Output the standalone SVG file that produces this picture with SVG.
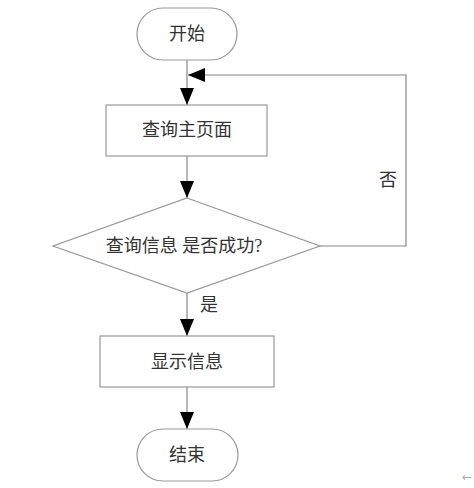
<svg xmlns="http://www.w3.org/2000/svg" width="474" height="488" viewBox="0 0 474 488">
<style>
.shape{fill:#fff;stroke:#999;stroke-width:1.2}
.line{fill:none;stroke:#888;stroke-width:1.2}
.t{font-family:"Liberation Serif","Noto Sans CJK SC",serif;font-size:18px;fill:#333;text-anchor:middle;dominant-baseline:central}
</style>
<rect width="474" height="488" fill="#fff"/>
<g id="connectors">
<path class="line" d="M187,60 V105"/>
<path d="M180,88 L194,88 L187,105 Z" fill="#000"/>
<path class="line" d="M320,246 H406 V75 H188"/>
<path d="M205,68 L205,82 L188,75 Z" fill="#000"/>
<path class="line" d="M187,156 V198"/>
<path d="M180,181 L194,181 L187,198 Z" fill="#000"/>
<path class="line" d="M187,293 V336"/>
<path d="M180,319 L194,319 L187,336 Z" fill="#000"/>
<path class="line" d="M187,387 V429"/>
<path d="M180,412 L194,412 L187,429 Z" fill="#000"/>
<text class="t" x="388" y="180">否</text>
<text class="t" x="209" y="305">是</text>
</g>
<g id="start">
<rect class="shape" x="137" y="8" width="100" height="52" rx="26" ry="26"/>
<text class="t" x="187" y="34">开始</text>
</g>
<g id="query">
<rect class="shape" x="106" y="105" width="161" height="51"/>
<text class="t" x="187" y="130">查询主页面</text>
</g>
<g id="decision">
<polygon class="shape" points="187,198 320,246 187,293 53,246"/>
<text class="t" x="184" y="246">查询信息 是否成功?</text>
</g>
<g id="show">
<rect class="shape" x="100" y="336" width="174" height="51"/>
<text class="t" x="187" y="362">显示信息</text>
</g>
<g id="end">
<rect class="shape" x="137" y="429" width="101" height="52" rx="26" ry="26"/>
<text class="t" x="187" y="455">结束</text>
</g>
<text x="467" y="481" font-family="DejaVu Sans,sans-serif" font-size="12" fill="#aaa" text-anchor="middle">←</text>
</svg>
